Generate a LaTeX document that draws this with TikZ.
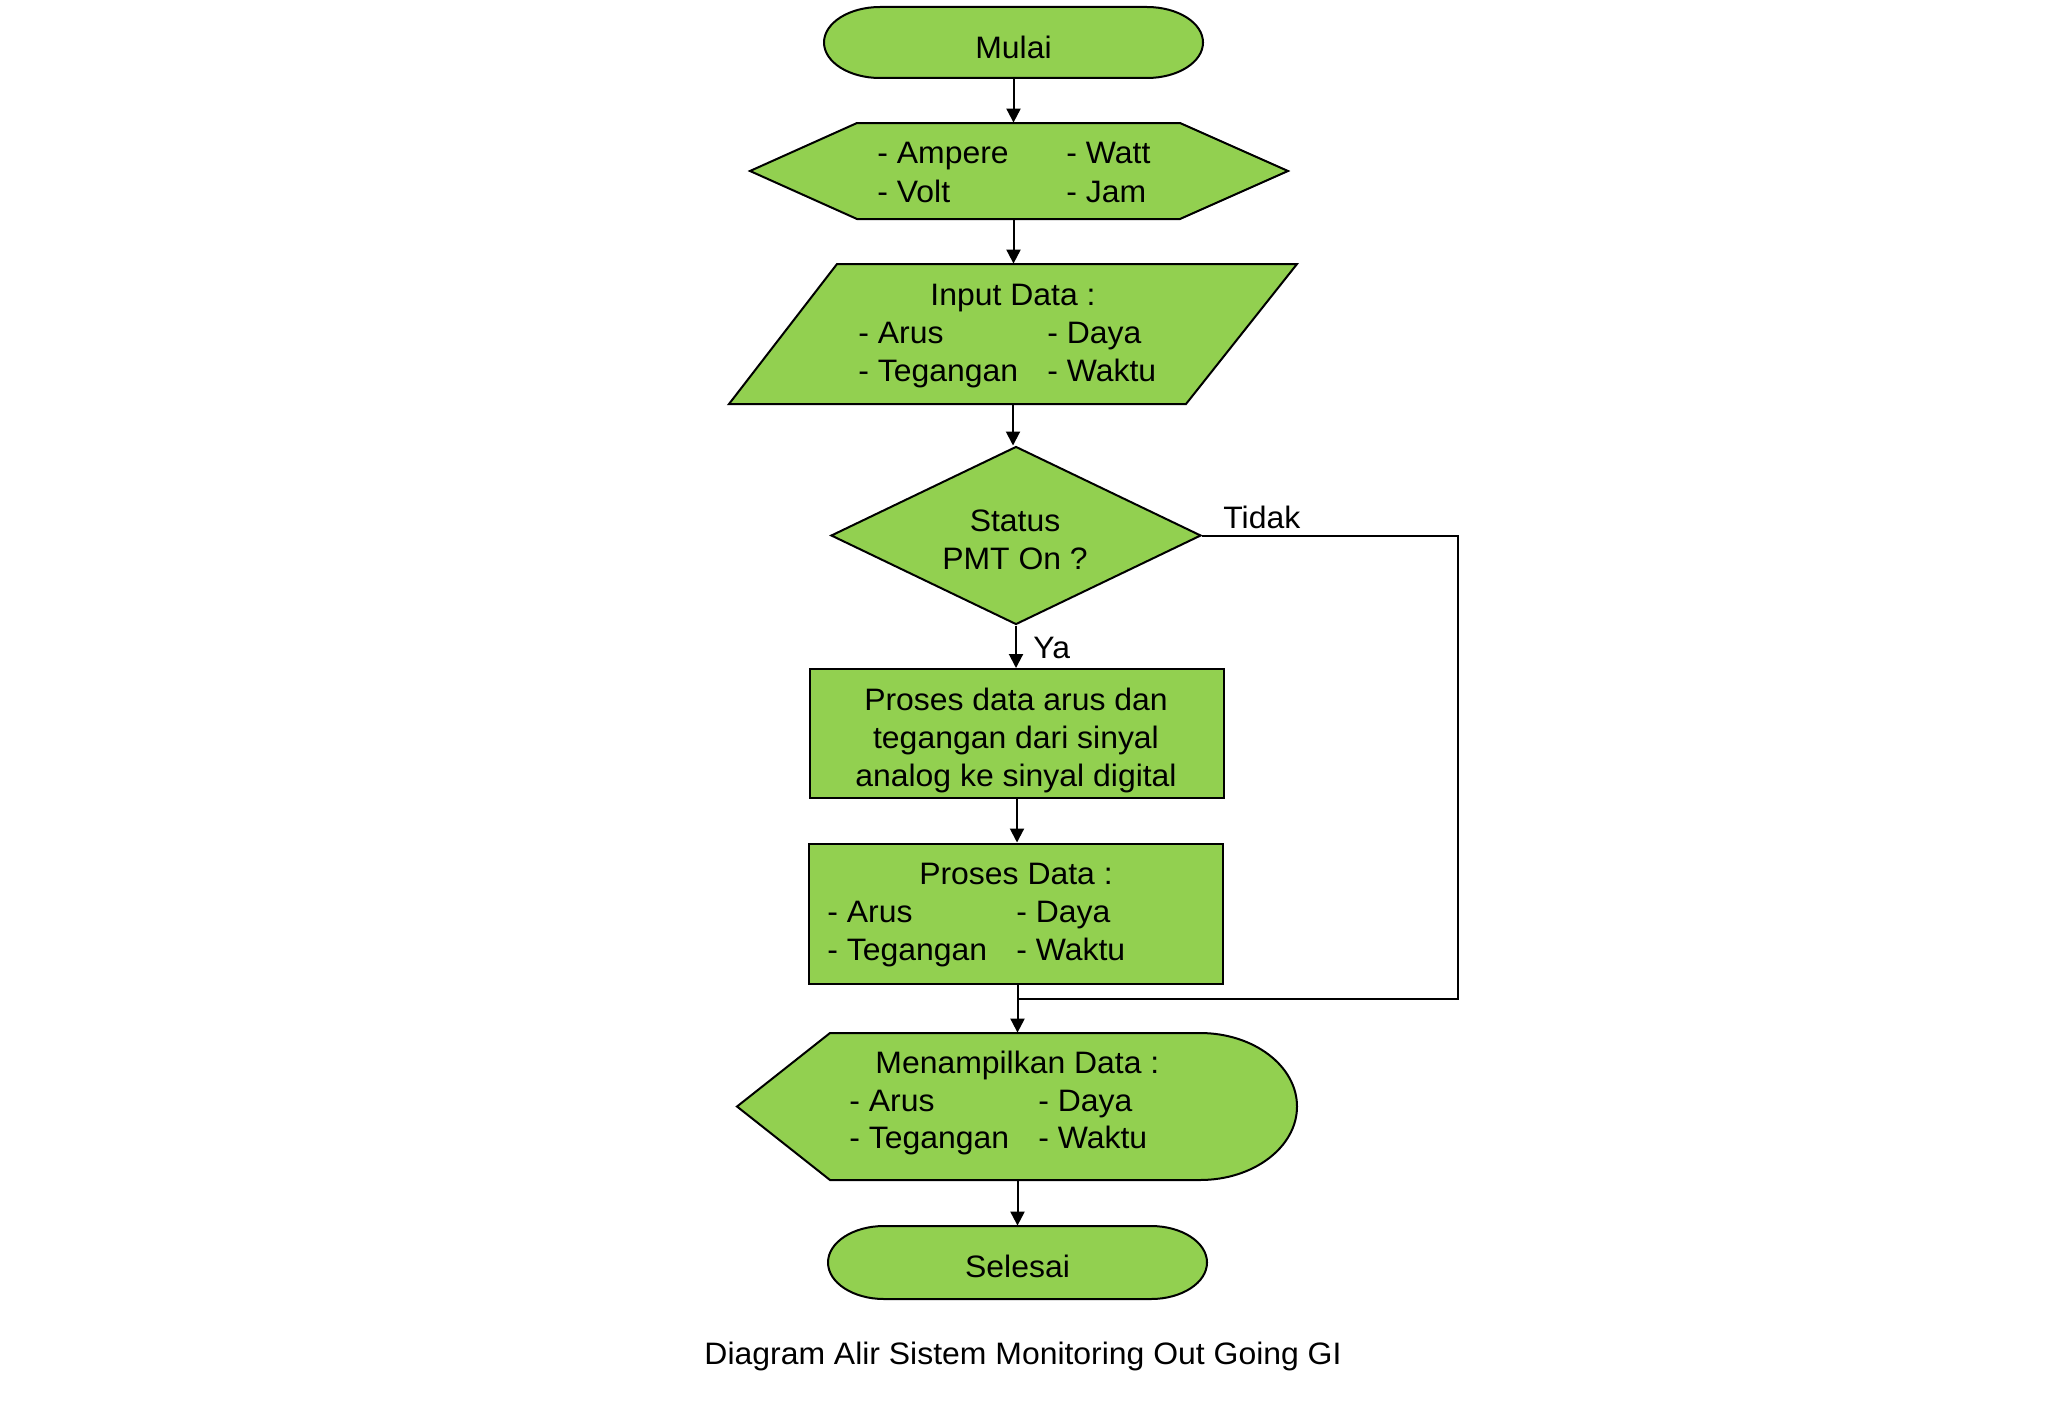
\documentclass[tikz,border=0pt]{standalone}
\usepackage{fontspec}
\setmainfont[FakeStretch=1.03]{Liberation Sans}
\usetikzlibrary{arrows.meta,shapes.geometric}
\definecolor{fc}{RGB}{146,208,80}
\newcommand\twocells[2]{\makebox[94.5pt][l]{#1}#2}
\begin{document}
\begin{tikzpicture}[x=0.5pt,y=-0.5pt,
 every node/.style={font=\fontsize{15.5pt}{19pt}\selectfont, inner sep=0pt},
 shapebox/.style={draw=black, fill=fc, line width=1pt},
 lbl/.style={anchor=base},
 lblw/.style={anchor=base west},
 arr/.style={-{Triangle[length=7pt,width=7pt]}, line width=1pt},
 ln/.style={line width=1pt}]
\useasboundingbox[fill=white] (0,0) rectangle (2048,1418);

% shapes
\draw[shapebox] (880,7) -- (1147,7) arc[start angle=90, end angle=-90, x radius=28pt, y radius=17.75pt]
  -- (880,78) arc[start angle=270, end angle=90, x radius=28pt, y radius=17.75pt] -- cycle;
\node[minimum width=189.5pt, minimum height=35.5pt] (mulai) at (1013.5,42.5) {};
\draw[shapebox] (750,171) -- (857,123) -- (1180,123) -- (1288,171) -- (1180,219) -- (857,219) -- cycle;
\node[minimum width=269pt, minimum height=48pt] (hex) at (1019,171) {};
\draw[shapebox] (729,404) -- (837,264) -- (1297,264) -- (1186,404) -- cycle;
\node[minimum width=284pt, minimum height=70pt] (para) at (1013,334) {};
\node[shapebox, diamond, minimum width=185pt, minimum height=89pt] (dia) at (1016,535.5) {};
\node[shapebox, rectangle, minimum width=207pt, minimum height=64.5pt] (r1) at (1017,733.5) {};
\node[shapebox, rectangle, minimum width=207pt, minimum height=70pt] (r2) at (1015.5,913.5) {};
\draw[shapebox] (737,1106.5) -- (830,1033) -- (1200,1033) arc[start angle=90, end angle=-90, x radius=48.5pt, y radius=36.75pt] -- (830,1180) -- cycle;
\node[minimum width=280pt, minimum height=73.5pt] (disp) at (1017,1106.5) {};
\draw[shapebox] (884,1226) -- (1151,1226) arc[start angle=90, end angle=-90, x radius=28pt, y radius=18.25pt]
  -- (884,1299) arc[start angle=270, end angle=90, x radius=28pt, y radius=18.25pt] -- cycle;
\node[minimum width=189.5pt, minimum height=36.5pt] (sel) at (1017.5,1262.5) {};

% connectors
\draw[arr] (mulai.south) -- (mulai.south |- hex.north);
\draw[arr] (mulai.south |- hex.south) -- (mulai.south |- para.north);
\draw[arr] (para.south) -- (para.south |- dia.north);
\draw[arr] (dia.south) -- (dia.south |- r1.north);
\draw[arr] (r1.south) -- (r1.south |- r2.north);
\draw[arr] (r2.south -| sel.north) -- (sel.north |- disp.north);
\draw[arr] (disp.south -| sel.north) -- (sel.north);
\coordinate (loopc) at (1458,999);
\draw[ln] (dia.east) -| (loopc) -- (loopc -| sel.north);

% labels
\node[lblw] (tidak) at (1223,528) {Tidak};
\node[lblw] (ya) at (1033,658) {Ya};

% texts
\node[lbl] (tmulai) at (1013.5,59) {Mulai};
\node[lblw] (h1) at (877,163) {\twocells{- Ampere}{- Watt}};
\node[lblw] (h2) at (877,202) {\twocells{- Volt}{- Jam}};
\node[lbl] (p0) at (1013,305) {Input Data :};
\node[lblw] (p1) at (858,343) {\twocells{- Arus}{- Daya}};
\node[lblw] (p2) at (858,381) {\twocells{- Tegangan}{- Waktu}};
\node[lbl] (d1) at (1015,531) {Status};
\node[lbl] (d2) at (1015,569) {PMT On ?};
\node[lbl] (a1) at (1016,710) {Proses data arus dan};
\node[lbl] (a2) at (1016,748) {tegangan dari sinyal};
\node[lbl] (a3) at (1016,786) {analog ke sinyal digital};
\node[lbl] (b0) at (1016,884) {Proses Data :};
\node[lblw] (b1) at (827,922) {\twocells{- Arus}{- Daya}};
\node[lblw] (b2) at (827,960) {\twocells{- Tegangan}{- Waktu}};
\node[lblw] (m0) at (875,1073) {Menampilkan Data :};
\node[lblw] (m1) at (849,1111) {\twocells{- Arus}{- Daya}};
\node[lblw] (m2) at (849,1148) {\twocells{- Tegangan}{- Waktu}};
\node[lbl] (tsel) at (1017.5,1277) {Selesai};
\node[lbl] (cap) at (1023,1364) {Diagram Alir Sistem Monitoring Out Going GI};
\end{tikzpicture}
\end{document}
